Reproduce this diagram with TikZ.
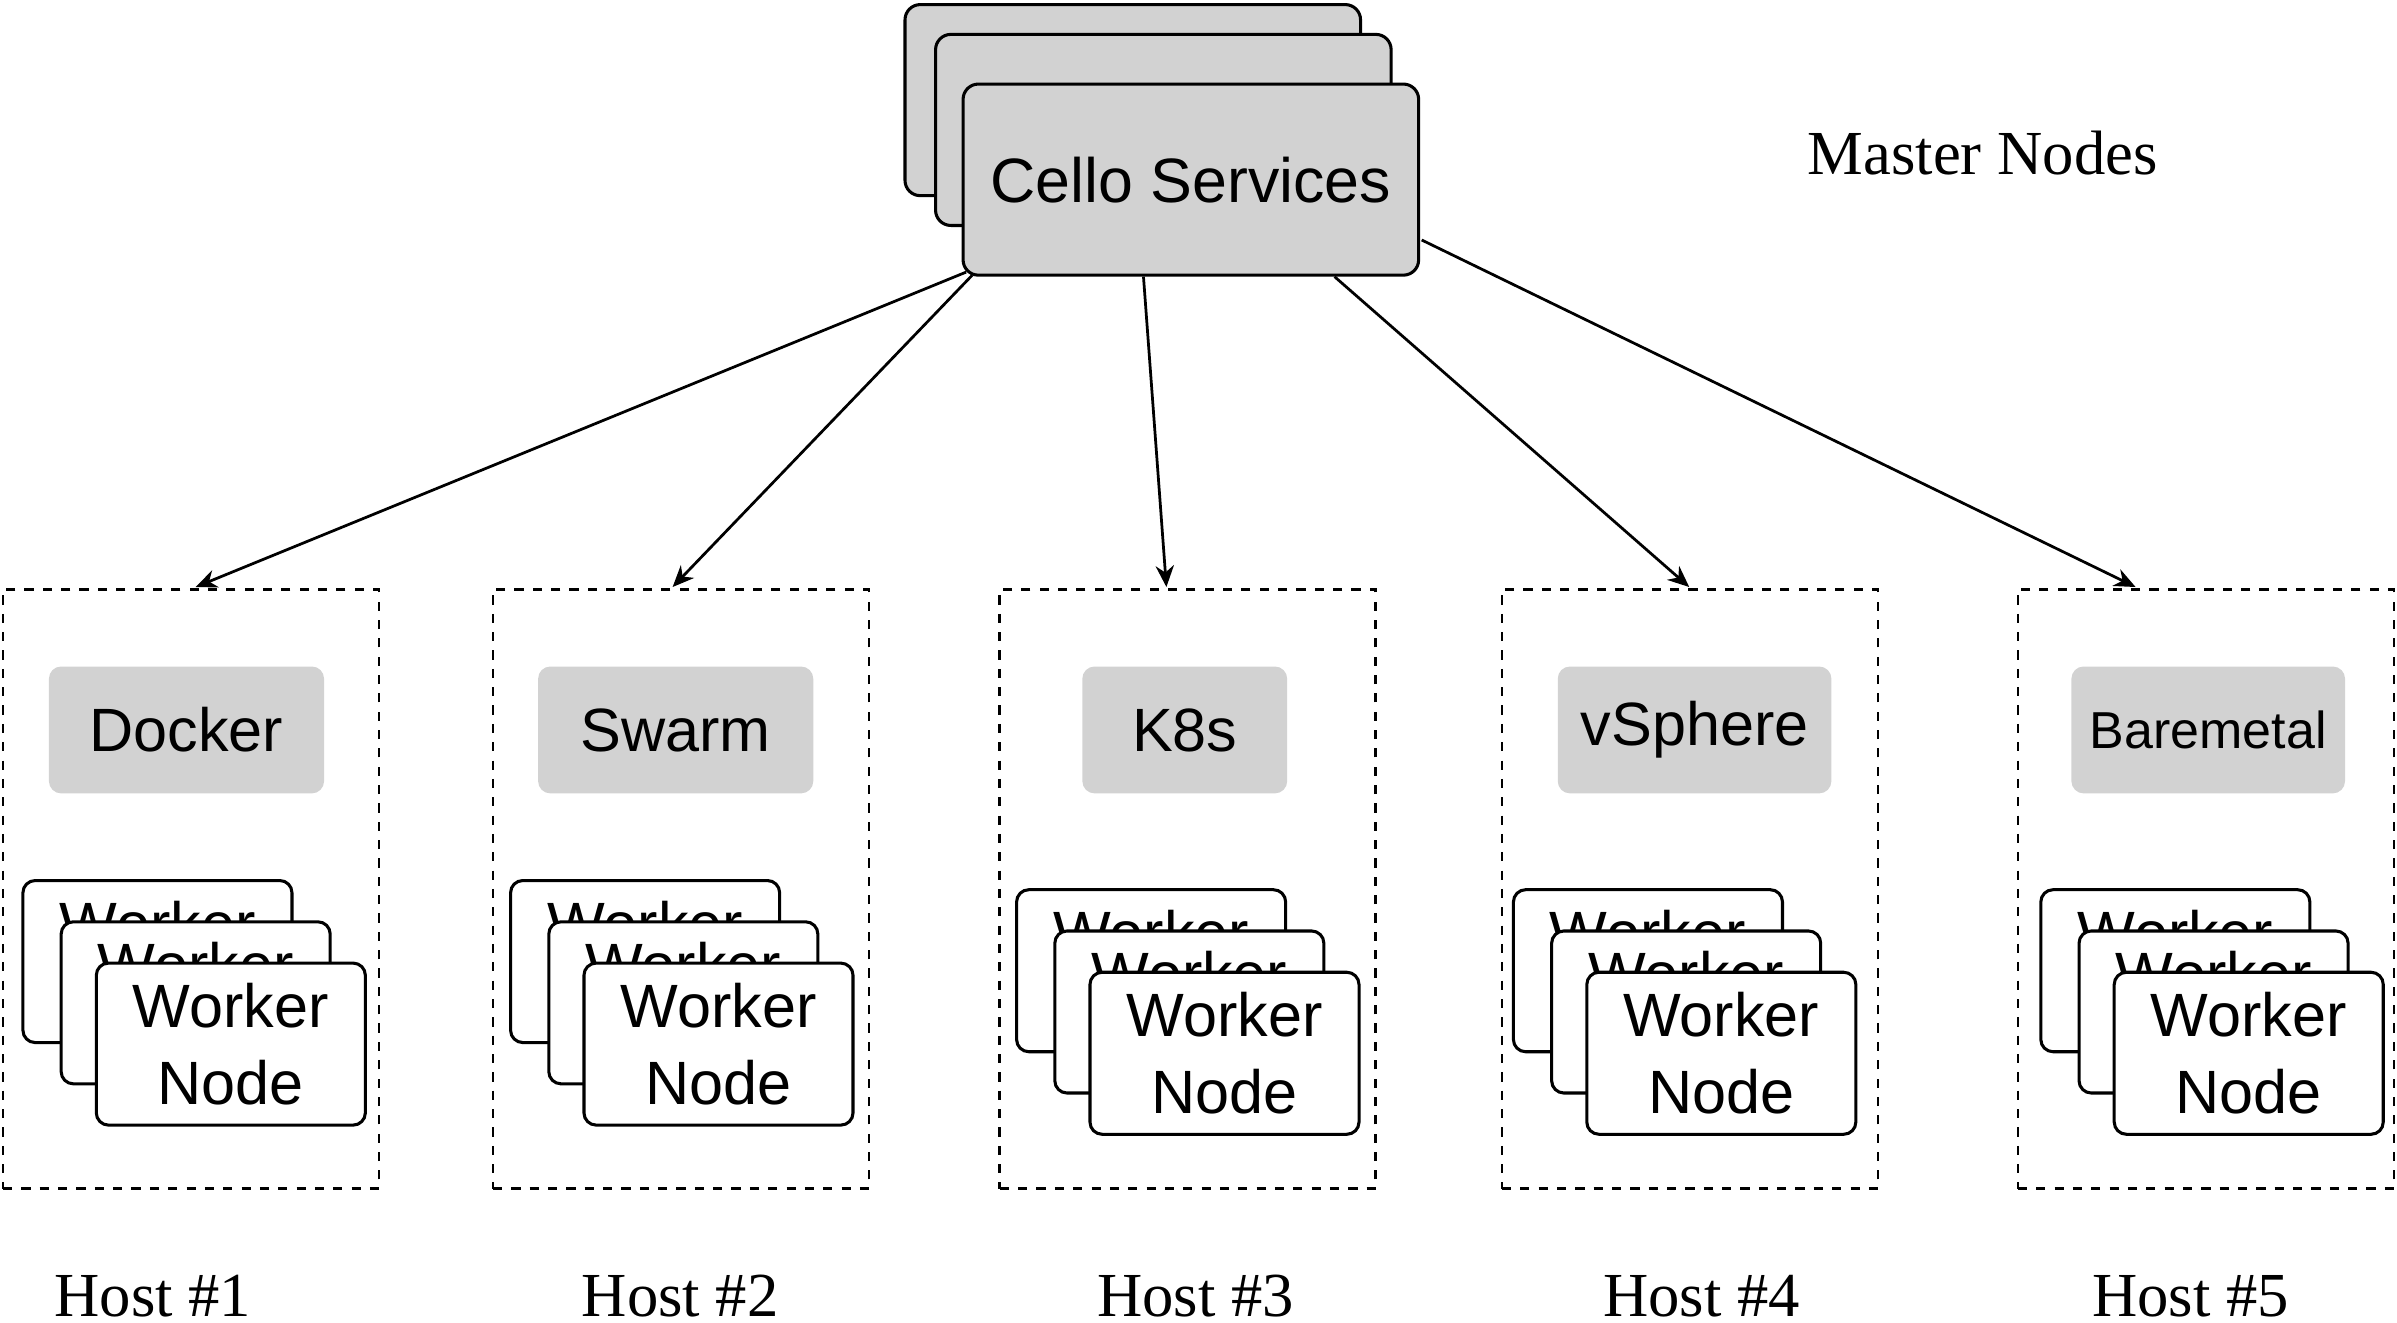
\documentclass[tikz,border=0pt]{standalone}
\usepackage{fontspec}
\setmainfont{Liberation Serif}
\newfontfamily\sansfont{Liberation Sans}
\usetikzlibrary{arrows.meta,positioning}
\definecolor{boxgray}{RGB}{210,210,210}
\tikzset{
  master/.style={draw,line width=1pt,fill=boxgray,rounded corners=5pt,minimum width=149pt,minimum height=62.5pt,inner sep=0pt,font=\sansfont\fontsize{20.5}{22}\selectfont},
  host/.style={draw,line width=0.9pt,dashed,minimum width=123pt,minimum height=196pt,inner sep=0pt},
  kind/.style={fill=boxgray,rounded corners=4pt,minimum height=41.5pt,inner sep=0pt,font=\sansfont\fontsize{20}{22}\selectfont},
  worker/.style={draw,line width=1pt,fill=white,rounded corners=4pt,minimum width=88pt,minimum height=53pt,inner sep=0pt,align=center,font=\sansfont\fontsize{20}{25}\selectfont},
  label/.style={font=\fontsize{20.5}{22}\selectfont},
  link/.style={line width=0.9pt,-{Stealth[length=7pt,width=6pt]}}
}
\begin{document}
\begin{tikzpicture}[x=0.5pt,y=0.5pt,yscale=-1]
\useasboundingbox (0,0) rectangle (1568,865);

%Master stack
\node[master] (m1) at (741,65.5) {};
\node[master] (m2) at (761,85) {};
\node[master] (master) at (779,117.5) {Cello Services};
\node[label] (mlabel) at (1297,100) {Master Nodes};

%Hosts
\node[host] (h1) at (125,581.5) {};
\node[host] (h2) at (445.5,581.5) {};
\node[host] (h3) at (777,581.5) {};
\node[host] (h4) at (1105.5,581.5) {};
\node[host] (h5) at (1443,581.5) {};

\node[kind,minimum width=90pt] (k1) at (122,477.5) {Docker};
\node[kind,minimum width=90pt] (k2) at (442,477.5) {Swarm};
\node[kind,minimum width=67pt] (k3) at (775,477.5) {K8s};
\node[kind,minimum width=89.5pt] (k4) at (1108.5,477.5) {vSphere};
\node[kind,minimum width=89.5pt,font=\sansfont\fontsize{17}{19}\selectfont] (k5) at (1444.5,477.5) {Baremetal};

%Worker stacks
\foreach \n/\x/\y in {1/15/576,2/334/576,3/665/582,4/990/582,5/1335/582}{
  \node[worker] (w\n a) at (\x+88,\y+53) {Worker\\Node};
  \node[worker] (w\n b) at (\x+25+88,\y+27+53) {Worker\\Node};
  \node[worker] (w\n c) at (\x+48+88,\y+54+53) {Worker\\Node};
}

%Host labels
\node[label] (l1) at (100,848) {Host \#1};
\node[label] (l2) at (445,848) {Host \#2};
\node[label] (l3) at (782,848) {Host \#3};
\node[label] (l4) at (1113,848) {Host \#4};
\node[label] (l5) at (1433,848) {Host \#5};

%Arrows
\coordinate (s1) at (632,178);
\coordinate (s2) at (636,180);
\coordinate (s3) at (748,181);
\coordinate (s4) at (873,181);
\coordinate (s5) at (930,157);
\coordinate (e1) at (128,384);
\coordinate (e2) at (440,384);
\coordinate (e3) at (763,384);
\coordinate (e4) at (1105,384);
\coordinate (e5) at (1397,384);
\foreach \n in {1,...,5}{
  \draw[link] (s\n) -- (e\n);
}

\end{tikzpicture}
\end{document}
